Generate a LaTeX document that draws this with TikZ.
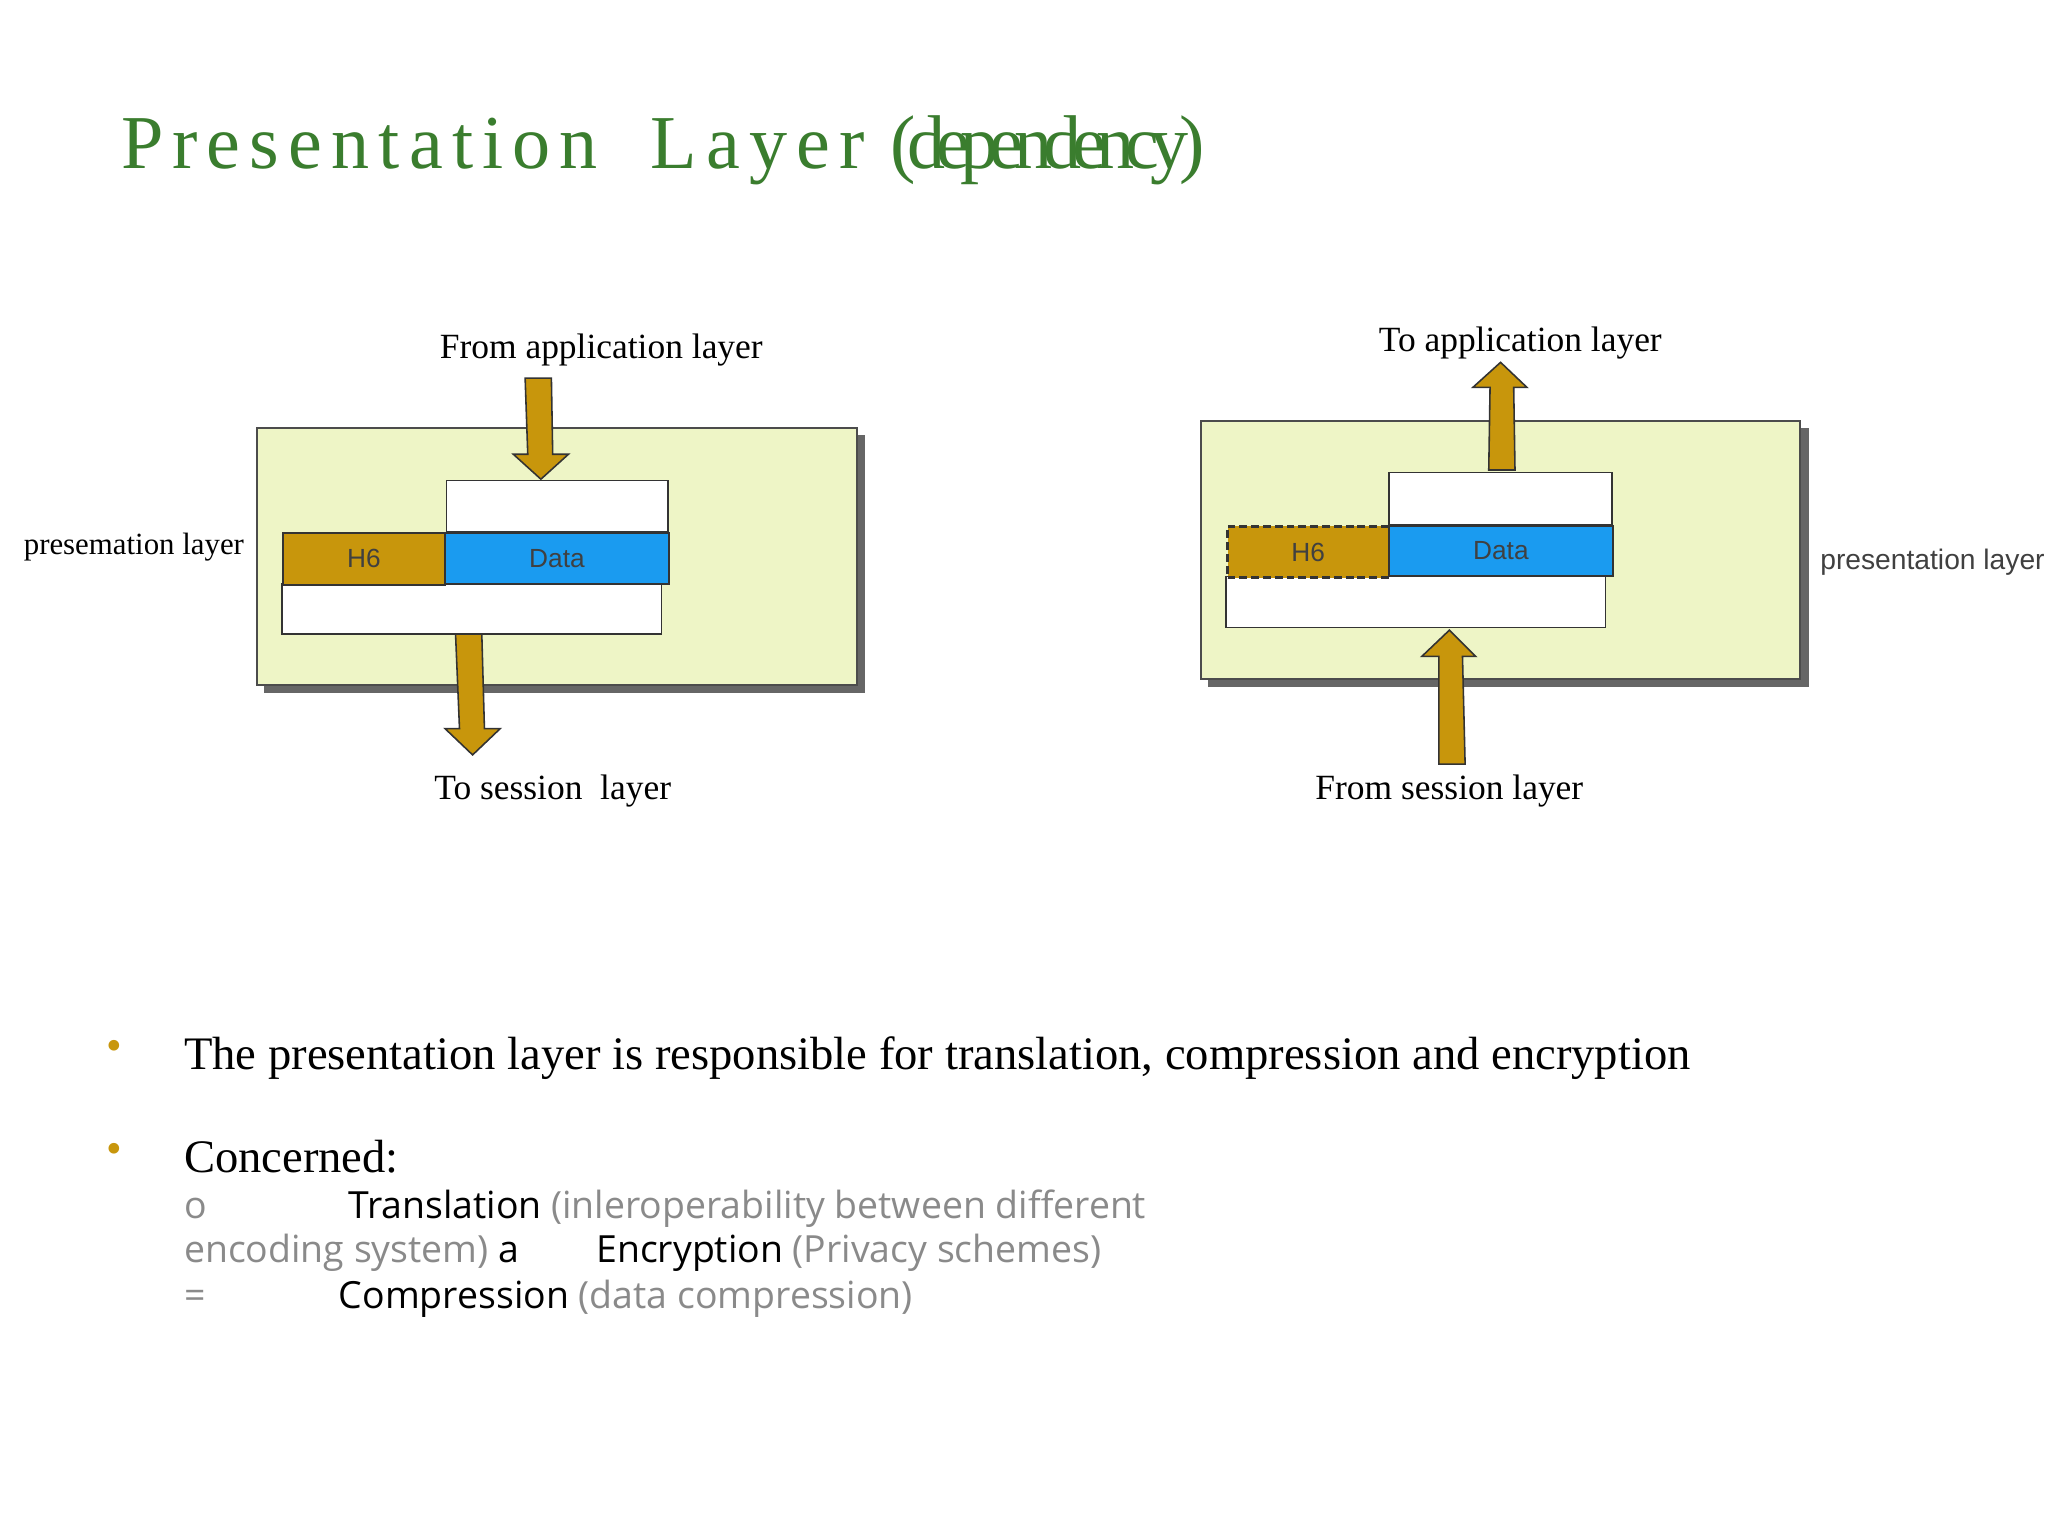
\documentclass[tikz,border=0pt]{standalone}
\usepackage{fontspec}
\setmainfont{Liberation Serif}
\newfontfamily\osans{Open Sans}
\newfontfamily\lsans{Liberation Sans}
\definecolor{boxbg}{HTML}{EEF5C6}
\definecolor{gold}{HTML}{C8960C}
\definecolor{dblue}{HTML}{1A9BF0}
\definecolor{tgreen}{HTML}{3A7D2E}
\definecolor{tgray}{HTML}{8A8A8A}
\begin{document}
\begin{tikzpicture}[x=1pt,y=-1pt,
  panel/.style={draw=black!70,line width=1.5pt,fill=boxbg},
  shadow/.style={fill=black!60},
  wbox/.style={draw=black!80,line width=1.2pt,fill=white},
  hbox/.style={draw=black!80,line width=1.5pt,fill=gold},
  dbox/.style={draw=black!80,line width=1.5pt,fill=dblue},
  arr/.style={fill=gold,draw=black!80,line width=1.2pt},
  lab/.style={font=\fontsize{27}{30}\selectfont,anchor=base},
  inl/.style={font=\lsans\fontsize{20}{24}\selectfont,text=black!75}]
\useasboundingbox[fill=white] (0,0) rectangle (1560,1170);
% title
\node[anchor=base west,inner sep=0,text=tgreen,font=\fontsize{58}{64}\selectfont] (title) at (92,128)
  {\addfontfeatures{LetterSpace=12}Presentation\hspace{40pt}Layer\hspace{20pt}\addfontfeatures{LetterSpace=-12}(dependency)};
% left panel
\fill[shadow] (201,331) rectangle (659,528);
\draw[panel] (196,326) rectangle (653,522);
\draw[wbox] (340,366) rectangle (509,405);
\draw[wbox] (215,445) rectangle (504,483);
\node[hbox,minimum width=123pt,minimum height=40pt,anchor=north west,inner sep=0,inl] (h6a) at (215,405) {H6};
\node[dbox,minimum width=171pt,minimum height=39pt,anchor=north west,inner sep=0,inl] (da) at (338,405) {Data};
\draw[arr] (400,288)--(420,288)--(421,346)--(433,346)--(412,365)--(391,346)--(402,346)--cycle;
\draw[arr] (347,483)--(367,483)--(369,555)--(381,555)--(360,575)--(339,555)--(350,555)--cycle;
\node[lab] (fa) at (458,273) {From application layer};
\node[lab] (ts) at (421,609) {To session\ \ layer};
\node[lab,font=\fontsize{23.5}{26}\selectfont] (pl1) at (102,422) {presemation layer};
% right panel
\fill[shadow] (920,326) rectangle (1378,523);
\draw[panel] (915,321) rectangle (1371,517);
\draw[wbox] (1058,360) rectangle (1228,400);
\draw[wbox] (934,439) rectangle (1223,478);
\node[hbox,dashed,dash pattern=on 6pt off 3pt,line width=2pt,minimum width=123pt,minimum height=39pt,anchor=north west,inner sep=0,inl] (h6b) at (934,400) {H6};
\node[dbox,minimum width=171pt,minimum height=38pt,anchor=north west,inner sep=0,inl] (db) at (1057,400) {Data};
\draw[arr] (1134,358)--(1154,358)--(1153,295)--(1163,295)--(1143,276)--(1122,295)--(1135,295)--cycle;
\draw[arr] (1096,582)--(1116,582)--(1114,500)--(1124,500)--(1104,480)--(1083,500)--(1096,500)--cycle;
\node[lab] (ta) at (1158,268) {To application layer};
\node[lab] (fs) at (1104,609) {From session layer};
\node[inl,anchor=base,font=\lsans\fontsize{21.5}{24}\selectfont] (pl2) at (1472,434) {presentation layer};
% bullets
\node[text=gold,font=\fontsize{34}{34}\selectfont,anchor=base] (b1) at (87,808) {•};
\node[text=gold,font=\fontsize{34}{34}\selectfont,anchor=base] (b2) at (87,886) {•};
\node[anchor=base west,inner sep=0,font=\fontsize{35.5}{40}\selectfont] (t1) at (140,815) {The presentation layer is responsible for translation, compression and encryption};
\node[anchor=base west,inner sep=0,font=\fontsize{35.5}{40}\selectfont] (t2) at (140,893) {Concerned:};
\begin{scope}[every node/.style={anchor=base west,font=\osans\fontsize{28.5}{32}\selectfont,inner sep=0}]
\node[text=tgray] (o) at (140,928) {o};
\node (tr) at (265,928) {Translation \textcolor{tgray}{(inleroperability between different}};
\node[text=tgray] (en) at (140,962) {encoding system) \textcolor{black}{a}};
\node (enc) at (454,962) {Encryption \textcolor{tgray}{(Privacy schemes)}};
\node[text=tgray] (eq) at (140,997) {=};
\node (co) at (258,997) {Compression \textcolor{tgray}{(data compression)}};
\end{scope}
\end{tikzpicture}
\end{document}
